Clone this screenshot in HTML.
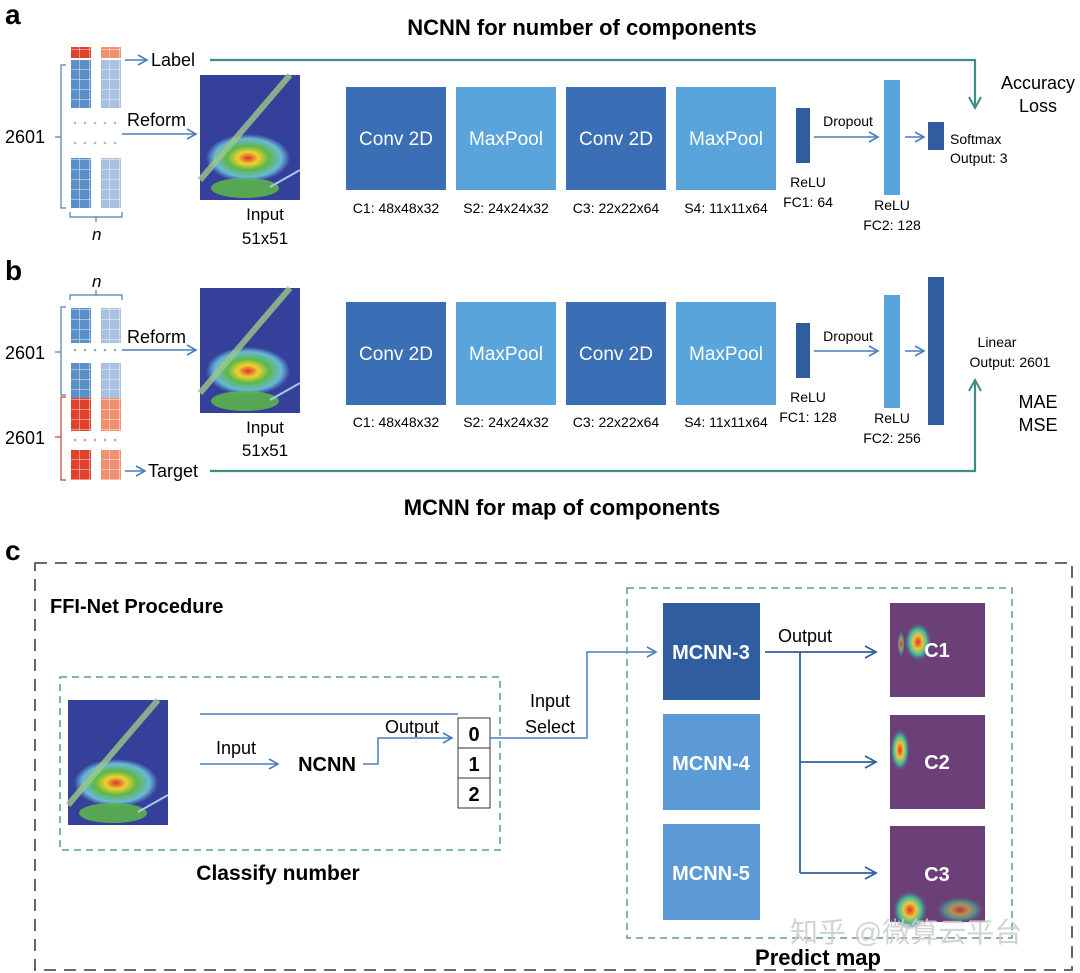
<!DOCTYPE html>
<html><head><meta charset="utf-8"><style>
body{margin:0;background:#fff;}
svg{display:block;font-family:"Liberation Sans","Noto Sans CJK SC",sans-serif;}
</style></head><body>
<svg width="1080" height="973" viewBox="0 0 1080 973" xmlns="http://www.w3.org/2000/svg">
<defs>
<marker id="ab" markerWidth="12" markerHeight="12" refX="10" refY="6" orient="auto" markerUnits="userSpaceOnUse"><path d="M1,1 L10,6 L1,11" fill="none" stroke="#4a7fb8" stroke-width="1.6"/></marker>
<marker id="at" markerWidth="14" markerHeight="14" refX="12" refY="7" orient="auto" markerUnits="userSpaceOnUse"><path d="M1,1 L12,7 L1,13" fill="none" stroke="#3e8c84" stroke-width="2"/></marker>
<marker id="ad" markerWidth="14" markerHeight="14" refX="12" refY="7" orient="auto" markerUnits="userSpaceOnUse"><path d="M1,1 L12,7 L1,13" fill="none" stroke="#3060a0" stroke-width="1.8"/></marker>
<radialGradient id="hm" cx="0.5" cy="0.5" r="0.5"><stop offset="0" stop-color="#d8342a"/><stop offset="0.25" stop-color="#f2d030"/><stop offset="0.5" stop-color="#5cb848"/><stop offset="0.8" stop-color="#6ab8d8"/><stop offset="1" stop-color="#35409a"/></radialGradient>
<radialGradient id="pm" cx="0.5" cy="0.5" r="0.5"><stop offset="0" stop-color="#e03020"/><stop offset="0.35" stop-color="#e8c840"/><stop offset="0.65" stop-color="#40b8a0"/><stop offset="1" stop-color="#6b3f77" stop-opacity="0"/></radialGradient>
<pattern id="grid" width="10" height="10" patternUnits="userSpaceOnUse"><path d="M10,0 V10 M0,10 H10" stroke="#fff" stroke-width="1.2" fill="none" opacity="0.7"/></pattern>
<g id="inimg">
<rect x="0" y="0" width="100" height="125" fill="#35409a"/>
<ellipse cx="48" cy="83" rx="42" ry="24" fill="url(#hm)"/>
<ellipse cx="45" cy="113" rx="34" ry="10" fill="#5cb848" opacity="0.85"/>
<line x1="0" y1="105" x2="90" y2="0" stroke="#9ec88a" stroke-width="6" opacity="0.8"/>
<line x1="70" y1="112" x2="100" y2="95" stroke="#aac8e8" stroke-width="2"/>
</g>
</defs>

<!-- Section a -->
<text x="5" y="24" font-size="28" font-weight="bold">a</text>
<text x="582" y="35" font-size="22" font-weight="bold" text-anchor="middle">NCNN for number of components</text>
<rect x="71" y="47" width="20" height="11" fill="#e0402c"/><rect x="101" y="47" width="20" height="11" fill="#f09070"/>
<rect x="71" y="60" width="20" height="48" fill="#5b8fc8"/><rect x="101" y="60" width="20" height="48" fill="#aac0e0"/>
<rect x="71" y="158" width="20" height="50" fill="#5b8fc8"/><rect x="101" y="158" width="20" height="50" fill="#aac0e0"/>
<rect x="71" y="47" width="20" height="161" fill="url(#grid)"/><rect x="101" y="47" width="20" height="161" fill="url(#grid)"/>
<rect x="71" y="109" width="50" height="48" fill="#fff"/>
<g fill="#9ab" opacity="0.8"><circle cx="75" cy="123" r="1.3"/><circle cx="85" cy="123" r="1.3"/><circle cx="95" cy="123" r="1.3"/><circle cx="105" cy="123" r="1.3"/><circle cx="115" cy="123" r="1.3"/><circle cx="75" cy="143" r="1.3"/><circle cx="85" cy="143" r="1.3"/><circle cx="95" cy="143" r="1.3"/><circle cx="105" cy="143" r="1.3"/><circle cx="115" cy="143" r="1.3"/></g>
<path d="M66,65 H61 V208 H66 M61,137 H55 M70,212 V217 H122 V212 M96,217 V222" fill="none" stroke="#4a7fb8" stroke-width="1.2"/>
<text x="5" y="143" font-size="18">2601</text>
<text x="92" y="240" font-size="17" font-style="italic">n</text>
<line x1="125" y1="60" x2="147" y2="60" stroke="#4a7fb8" stroke-width="1.5" marker-end="url(#ab)"/>
<text x="151" y="66" font-size="18">Label</text>
<path d="M210,60 H975 V108" fill="none" stroke="#3e8c84" stroke-width="2.2" marker-end="url(#at)"/>
<text x="127" y="126" font-size="18">Reform</text>
<line x1="122" y1="134" x2="196" y2="134" stroke="#4a7fb8" stroke-width="1.5" marker-end="url(#ab)"/>
<use href="#inimg" x="200" y="75"/>
<text x="265" y="220" font-size="17" text-anchor="middle">Input</text>
<text x="265" y="244" font-size="17" text-anchor="middle">51x51</text>
<g font-size="19" fill="#fff" text-anchor="middle">
<rect x="346" y="87" width="100" height="103" fill="#3a6fb5"/><text x="396" y="145">Conv 2D</text>
<rect x="456" y="87" width="100" height="103" fill="#5aa4dc"/><text x="506" y="145">MaxPool</text>
<rect x="566" y="87" width="100" height="103" fill="#3a6fb5"/><text x="616" y="145">Conv 2D</text>
<rect x="676" y="87" width="100" height="103" fill="#5aa4dc"/><text x="726" y="145">MaxPool</text>
</g>
<g font-size="14" text-anchor="middle">
<text x="396" y="213">C1: 48x48x32</text><text x="506" y="213">S2: 24x24x32</text><text x="616" y="213">C3: 22x22x64</text><text x="726" y="213">S4: 11x11x64</text>
</g>
<rect x="796" y="108" width="14" height="55" fill="#2f5da0"/>
<text x="808" y="187" font-size="14" text-anchor="middle">ReLU</text><text x="808" y="207" font-size="14" text-anchor="middle">FC1: 64</text>
<text x="848" y="126" font-size="14" text-anchor="middle">Dropout</text>
<line x1="814" y1="137" x2="878" y2="137" stroke="#4a7fb8" stroke-width="1.5" marker-end="url(#ab)"/>
<rect x="884" y="80" width="16" height="115" fill="#5aa4dc"/>
<text x="892" y="210" font-size="14" text-anchor="middle">ReLU</text><text x="892" y="230" font-size="14" text-anchor="middle">FC2: 128</text>
<line x1="905" y1="137" x2="924" y2="137" stroke="#4a7fb8" stroke-width="1.5" marker-end="url(#ab)"/>
<rect x="928" y="122" width="16" height="28" fill="#2f5da0"/>
<text x="950" y="144" font-size="14">Softmax</text><text x="950" y="163" font-size="14">Output: 3</text>
<text x="1038" y="89" font-size="18" text-anchor="middle">Accuracy</text><text x="1038" y="112" font-size="18" text-anchor="middle">Loss</text>

<!-- Section b -->
<text x="5" y="280" font-size="28" font-weight="bold">b</text>
<text x="92" y="287" font-size="17" font-style="italic">n</text>
<path d="M70,300 V295 H122 V300 M96,295 V290" fill="none" stroke="#4a7fb8" stroke-width="1.2"/>
<rect x="71" y="308" width="20" height="35" fill="#5b8fc8"/><rect x="101" y="308" width="20" height="35" fill="#aac0e0"/>
<rect x="71" y="363" width="20" height="35" fill="#5b8fc8"/><rect x="101" y="363" width="20" height="35" fill="#aac0e0"/>
<rect x="71" y="398" width="20" height="33" fill="#e0402c"/><rect x="101" y="398" width="20" height="33" fill="#f09070"/>
<rect x="71" y="450" width="20" height="30" fill="#e0402c"/><rect x="101" y="450" width="20" height="30" fill="#f09070"/>
<rect x="71" y="308" width="20" height="172" fill="url(#grid)"/><rect x="101" y="308" width="20" height="172" fill="url(#grid)"/>
<rect x="71" y="344" width="50" height="18" fill="#fff"/><rect x="71" y="432" width="50" height="17" fill="#fff"/>
<g fill="#9ab"><circle cx="75" cy="350" r="1.3"/><circle cx="85" cy="350" r="1.3"/><circle cx="95" cy="350" r="1.3"/><circle cx="105" cy="350" r="1.3"/><circle cx="115" cy="350" r="1.3"/></g>
<g fill="#d99"><circle cx="75" cy="440" r="1.3"/><circle cx="85" cy="440" r="1.3"/><circle cx="95" cy="440" r="1.3"/><circle cx="105" cy="440" r="1.3"/><circle cx="115" cy="440" r="1.3"/></g>
<path d="M66,307 H61 V395 H66 M61,352 H55" fill="none" stroke="#4a7fb8" stroke-width="1.2"/>
<path d="M66,397 H61 V480 H66 M61,437 H55" fill="none" stroke="#c84030" stroke-width="1.2"/>
<text x="5" y="359" font-size="18">2601</text>
<text x="5" y="444" font-size="18">2601</text>
<text x="127" y="343" font-size="18">Reform</text>
<line x1="122" y1="350" x2="196" y2="350" stroke="#4a7fb8" stroke-width="1.5" marker-end="url(#ab)"/>
<use href="#inimg" x="200" y="288"/>
<text x="265" y="433" font-size="17" text-anchor="middle">Input</text>
<text x="265" y="456" font-size="17" text-anchor="middle">51x51</text>
<g font-size="19" fill="#fff" text-anchor="middle">
<rect x="346" y="302" width="100" height="103" fill="#3a6fb5"/><text x="396" y="360">Conv 2D</text>
<rect x="456" y="302" width="100" height="103" fill="#5aa4dc"/><text x="506" y="360">MaxPool</text>
<rect x="566" y="302" width="100" height="103" fill="#3a6fb5"/><text x="616" y="360">Conv 2D</text>
<rect x="676" y="302" width="100" height="103" fill="#5aa4dc"/><text x="726" y="360">MaxPool</text>
</g>
<g font-size="14" text-anchor="middle">
<text x="396" y="427">C1: 48x48x32</text><text x="506" y="427">S2: 24x24x32</text><text x="616" y="427">C3: 22x22x64</text><text x="726" y="427">S4: 11x11x64</text>
</g>
<rect x="796" y="323" width="14" height="55" fill="#2f5da0"/>
<text x="808" y="402" font-size="14" text-anchor="middle">ReLU</text><text x="808" y="422" font-size="14" text-anchor="middle">FC1: 128</text>
<text x="848" y="341" font-size="14" text-anchor="middle">Dropout</text>
<line x1="814" y1="351" x2="878" y2="351" stroke="#4a7fb8" stroke-width="1.5" marker-end="url(#ab)"/>
<rect x="884" y="295" width="16" height="113" fill="#5aa4dc"/>
<text x="892" y="423" font-size="14" text-anchor="middle">ReLU</text><text x="892" y="443" font-size="14" text-anchor="middle">FC2: 256</text>
<line x1="905" y1="351" x2="924" y2="351" stroke="#4a7fb8" stroke-width="1.5" marker-end="url(#ab)"/>
<rect x="928" y="277" width="16" height="148" fill="#2f5da0"/>
<text x="997" y="347" font-size="14" text-anchor="middle">Linear</text><text x="1010" y="367" font-size="14" text-anchor="middle">Output: 2601</text>
<text x="1038" y="408" font-size="18" text-anchor="middle">MAE</text><text x="1038" y="431" font-size="18" text-anchor="middle">MSE</text>
<line x1="125" y1="471" x2="145" y2="471" stroke="#4a7fb8" stroke-width="1.5" marker-end="url(#ab)"/>
<text x="148" y="477" font-size="18">Target</text>
<path d="M210,471 H975 V380" fill="none" stroke="#3e8c84" stroke-width="2.2" marker-end="url(#at)"/>
<text x="562" y="515" font-size="22" font-weight="bold" text-anchor="middle">MCNN for map of components</text>

<!-- Section c -->
<text x="5" y="560" font-size="28" font-weight="bold">c</text>
<rect x="35" y="563" width="1037" height="407" fill="none" stroke="#555" stroke-width="1.8" stroke-dasharray="12,8"/>
<text x="50" y="613" font-size="20" font-weight="bold">FFI-Net Procedure</text>
<rect x="60" y="677" width="440" height="173" fill="none" stroke="#5a9a98" stroke-width="1.5" stroke-dasharray="7,5"/>
<use href="#inimg" x="68" y="700"/>
<text x="236" y="754" font-size="18" text-anchor="middle">Input</text>
<line x1="200" y1="764" x2="278" y2="764" stroke="#4a7fb8" stroke-width="1.5" marker-end="url(#ab)"/>
<text x="327" y="771" font-size="20" font-weight="bold" text-anchor="middle">NCNN</text>
<path d="M363,764 H378 V738 H452" fill="none" stroke="#4a7fb8" stroke-width="1.5" marker-end="url(#ab)"/>
<text x="412" y="733" font-size="18" text-anchor="middle">Output</text>
<g font-size="20" font-weight="bold" text-anchor="middle">
<rect x="458" y="718" width="32" height="30" fill="#fff" stroke="#333"/><text x="474" y="741">0</text>
<rect x="458" y="748" width="32" height="30" fill="#fff" stroke="#333"/><text x="474" y="771">1</text>
<rect x="458" y="778" width="32" height="30" fill="#fff" stroke="#333"/><text x="474" y="801">2</text>
</g>
<line x1="200" y1="714" x2="458" y2="714" stroke="#4a7fb8" stroke-width="1.5"/>
<path d="M490,738 H587 V652 H656" fill="none" stroke="#4a7fb8" stroke-width="1.5" marker-end="url(#ab)"/>
<text x="550" y="707" font-size="18" text-anchor="middle">Input</text>
<text x="550" y="733" font-size="18" text-anchor="middle">Select</text>
<text x="278" y="880" font-size="21" font-weight="bold" text-anchor="middle">Classify number</text>
<rect x="627" y="588" width="385" height="350" fill="none" stroke="#5a9a98" stroke-width="1.5" stroke-dasharray="7,5"/>
<g font-size="20" font-weight="bold" fill="#fff" text-anchor="middle">
<rect x="663" y="603" width="97" height="97" fill="#2f5da0"/><text x="711" y="659">MCNN-3</text>
<rect x="663" y="714" width="97" height="96" fill="#5b9ad6"/><text x="711" y="770">MCNN-4</text>
<rect x="663" y="824" width="97" height="96" fill="#5b9ad6"/><text x="711" y="880">MCNN-5</text>
</g>
<text x="805" y="642" font-size="18" text-anchor="middle">Output</text>
<path d="M765,652 H800 V873" fill="none" stroke="#3060a0" stroke-width="1.8"/>
<line x1="800" y1="652" x2="876" y2="652" stroke="#3060a0" stroke-width="1.8" marker-end="url(#ad)"/>
<line x1="800" y1="762" x2="876" y2="762" stroke="#3060a0" stroke-width="1.8" marker-end="url(#ad)"/>
<line x1="800" y1="873" x2="876" y2="873" stroke="#3060a0" stroke-width="1.8" marker-end="url(#ad)"/>
<rect x="890" y="603" width="95" height="94" fill="#6b3f77"/>
<ellipse cx="918" cy="642" rx="14" ry="20" fill="url(#pm)"/><ellipse cx="901" cy="644" rx="4" ry="14" fill="url(#pm)" opacity="0.6"/>
<rect x="890" y="715" width="95" height="94" fill="#6b3f77"/>
<ellipse cx="900" cy="750" rx="10" ry="22" fill="url(#pm)"/>
<rect x="890" y="826" width="95" height="96" fill="#6b3f77"/>
<ellipse cx="910" cy="910" rx="18" ry="20" fill="url(#pm)"/><ellipse cx="960" cy="910" rx="25" ry="14" fill="url(#pm)" opacity="0.6"/>
<g font-size="20" font-weight="bold" fill="#fff" text-anchor="middle">
<text x="937" y="657">C1</text><text x="937" y="769">C2</text><text x="937" y="881">C3</text>
</g>
<text x="818" y="965" font-size="22" font-weight="bold" text-anchor="middle">Predict map</text>
<text x="790" y="942" font-size="28" fill="#ccc" opacity="0.85">知乎 @微算云平台</text>
</svg>
</body></html>
